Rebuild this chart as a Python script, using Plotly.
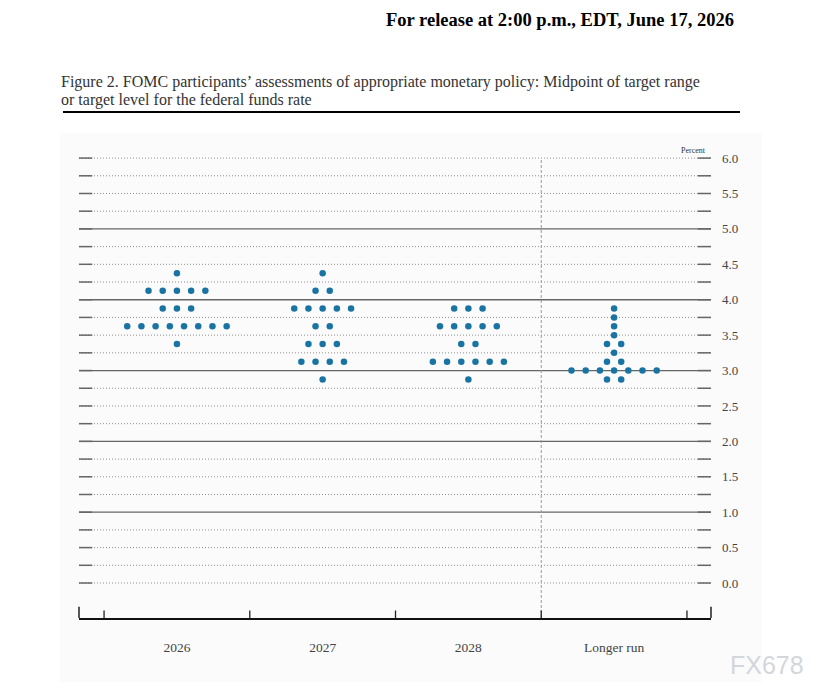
import plotly.graph_objects as go

categories = ["2026", "2027", "2028", "Longer run"]
rates = [4.375, 4.125, 3.875, 3.75, 3.625, 3.5, 3.375, 3.25, 3.125, 3.0, 2.875]
counts_2026 = [1, 5, 3, 0, 8, 0, 1, 0, 0, 0, 0]
counts_2027 = [1, 2, 5, 0, 2, 0, 3, 0, 4, 0, 1]
counts_2028 = [0, 0, 3, 0, 5, 0, 2, 0, 6, 0, 1]
counts_lr = [0, 0, 1, 1, 1, 1, 2, 1, 2, 7, 2]
all_counts = [counts_2026, counts_2027, counts_2028, counts_lr]

y_labels = [0.0, 0.5, 1.0, 1.5, 2.0, 2.5, 3.0, 3.5, 4.0, 4.5, 5.0, 5.5, 6.0]
grid_levels = [i * 0.25 for i in range(25)]

DOT_COLOR = "#1a74a3"
SERIF = "Liberation Serif"
SPACING = 0.0975

xs, ys = [], []
for ci, counts in enumerate(all_counts):
    for r, n in zip(rates, counts):
        for k in range(n):
            xs.append(ci + (k - (n - 1) / 2) * SPACING)
            ys.append(r)

fig = go.Figure()
fig.add_trace(go.Scatter(x=xs, y=ys, mode="markers",
                         marker=dict(size=6.5, color=DOT_COLOR),
                         hoverinfo="skip", showlegend=False))

XMIN, XMAX = -0.672, 3.665
YMIN, YMAX = -0.494, 6.1

# plot area in page pixels: x 79..711, y 151..618 (632 x 467)
def px(x):
    return (x - 79) / 632

def py(y):
    return (618 - y) / 467

shapes = []
shapes.append(dict(type="rect", xref="paper", yref="paper",
                   x0=px(60), x1=px(762), y0=py(682), y1=py(133),
                   fillcolor="#fbfbfb", line=dict(width=0), layer="below"))
for g in grid_levels:
    solid = abs(g - round(g)) < 1e-9 and 0 < g < 6
    shapes.append(dict(type="line", xref="x domain", yref="y",
                       x0=0, x1=1, y0=g, y1=g, layer="below",
                       line=dict(color="#666" if solid else "#8f8f8f",
                                 width=1.3 if solid else 1,
                                 dash="solid" if solid else "1px,2px")))
    for a, b in [(0, 0.021), (0.979, 1)]:
        shapes.append(dict(type="line", xref="x domain", yref="y",
                           x0=a, x1=b, y0=g, y1=g, layer="below",
                           line=dict(color="#666", width=1.5)))
shapes.append(dict(type="line", xref="x", yref="y", x0=2.5, x1=2.5,
                   y0=YMIN, y1=6.0, layer="below",
                   line=dict(color="#999", width=1, dash="3px,2px")))
for xd in [0, 1]:
    shapes.append(dict(type="line", xref="x domain", yref="y domain",
                       x0=xd, x1=xd, y0=0, y1=0.024,
                       line=dict(color="#222", width=1.5)))
for b in [-0.5, 0.5, 1.5, 2.5, 3.5]:
    shapes.append(dict(type="line", xref="x", yref="y domain",
                       x0=b, x1=b, y0=0, y1=0.016,
                       line=dict(color="#222", width=1.3)))
shapes.append(dict(type="line", xref="paper", yref="paper",
                   x0=px(63), x1=px(740), y0=py(112), y1=py(112),
                   line=dict(color="black", width=2)))

annotations = [
    dict(text="<b>For release at 2:00 p.m., EDT, June 17, 2026</b>",
         xref="paper", yref="paper", x=px(736), y=py(20),
         xanchor="right", yanchor="middle", showarrow=False,
         font=dict(family=SERIF, size=18.5, color="black")),
    dict(text="Figure 2. FOMC participants\u2019 assessments of appropriate monetary policy: Midpoint of target range",
         xref="paper", yref="paper", x=px(59), y=py(82),
         xanchor="left", yanchor="middle", showarrow=False,
         font=dict(family=SERIF, size=16, color="#333")),
    dict(text="or target level for the federal funds rate",
         xref="paper", yref="paper", x=px(59), y=py(100),
         xanchor="left", yanchor="middle", showarrow=False,
         font=dict(family=SERIF, size=16, color="#333")),
    dict(text="Percent", xref="x domain", yref="y", x=0.995, y=6.0,
         xanchor="right", yanchor="bottom", yshift=1, showarrow=False,
         font=dict(family=SERIF, size=8, color="#333")),
    dict(text="FX678", xref="paper", yref="paper", x=px(767),
         y=py(665), xanchor="center", yanchor="middle",
         showarrow=False,
         font=dict(family="Liberation Sans", size=25, color="#d3d7dc")),
]

# page body has an 8px margin: figure origin is at (8, 8) in the window
fig.update_layout(
    width=821, height=687,
    margin=dict(l=71, r=118, t=143, b=77),
    paper_bgcolor="white", plot_bgcolor="rgba(0,0,0,0)",
    shapes=shapes, annotations=annotations,
    xaxis=dict(range=[XMIN, XMAX], tickvals=[0, 1, 2, 3], ticktext=categories,
               showgrid=False, zeroline=False, showline=True,
               linecolor="#111", linewidth=1.5, ticks="",
               ticklabelstandoff=16,
               tickfont=dict(family=SERIF, size=13.5, color="#444")),
    yaxis=dict(range=[YMIN, YMAX], side="right", tickvals=y_labels,
               ticktext=[f"{v:.1f}" for v in y_labels],
               showgrid=False, zeroline=False, showline=False, ticks="",
               ticklabelstandoff=10,
               tickfont=dict(family=SERIF, size=13, color="#444")),
)

fig.write_html("out.html")
